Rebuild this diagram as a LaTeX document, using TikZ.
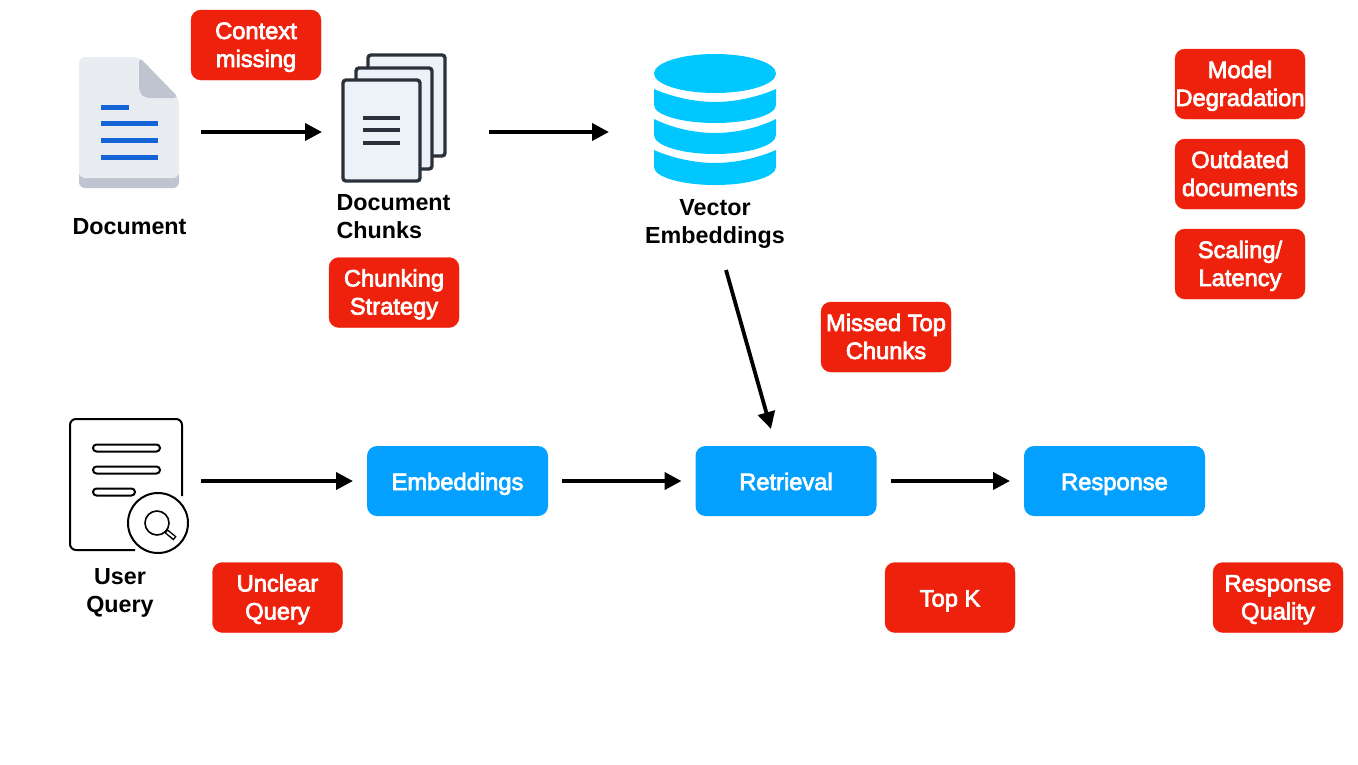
\documentclass[tikz,border=0pt]{standalone}
\usepackage{fontspec}
\setmainfont{Liberation Sans}
\newfontfamily\boxfont[FakeBold=3]{Liberation Sans}
\usetikzlibrary{calc}
\usetikzlibrary{arrows.meta}
\definecolor{issuered}{HTML}{EE220C}
\definecolor{stepblue}{HTML}{04A0FF}
\definecolor{dbcyan}{HTML}{00C7FF}
\definecolor{sheetgrey}{HTML}{E9ECF1}
\definecolor{foldgrey}{HTML}{BEC5D0}
\definecolor{lineblue}{HTML}{1565D8}
\definecolor{stackdark}{HTML}{2A313A}
\definecolor{stackfill}{HTML}{EDF1F8}
\tikzset{
  issue/.style={fill=issuered,draw=issuered,rounded corners=10,minimum width=130,minimum height=70,
    inner sep=0,text=white,align=center,text height=44,text depth=0,font=\boxfont\fontsize{23.7}{28}\selectfont},
  issueone/.style={issue,text height=18},
  stepbox/.style={fill=stepblue,rounded corners=10,minimum width=181,minimum height=70,
    inner sep=0,text=white,align=center,outer sep=14,text height=18,text depth=0,font=\boxfont\fontsize{23.7}{28}\selectfont},
  caption/.style={inner sep=0,text=black,font=\bfseries\fontsize{23.3}{28}\selectfont},
  flow/.style={line width=3.8,-{Triangle[length=17,width=17]}},
  sheet/.style={draw=stackdark,fill=stackfill,line width=3.4,rounded corners=3},
  pill/.style={draw=black,line width=2,rounded corners=3.5}
}
\begin{document}
\begin{tikzpicture}[x=1pt,y=-1pt]
    \useasboundingbox (0,0) rectangle (1358,764);
    \coordinate (docout) at (201,132);
    \coordinate (chunksin) at (322,132);
    \coordinate (chunksout) at (489,132);
    \coordinate (vectorin) at (609,132);
    \coordinate (vectorout) at (726,270);
    \coordinate (retrievalin) at (771,429);
    \coordinate (queryout) at (201,481);
      % document icon
      \fill [foldgrey,rounded corners=6] (79,170) -- (79,188) -- (179,188) -- (179,170) -- cycle;
      \fill [sheetgrey,rounded corners=6] (79,178) -- (79,57) -- (139,57) -- (179,98) -- (179,178) -- cycle;
      \fill [foldgrey,rounded corners=5] (139,57) -- (179,98) -- (145,98) -- (139,92) -- cycle;
      \fill [lineblue] (101,104.5) rectangle (129,109.5);
      \foreach \y in {123,140,157}
        \fill [lineblue] (101,\y-2.5) rectangle (158,\y+2.5);
      % chunk stack
      \draw [sheet] (368,55) rectangle (445,156);
      \draw [sheet] (356,68) rectangle (432,169);
      \draw [sheet] (343,80) rectangle (420,181);
      \foreach \y in {118,130,143}
        \draw [stackdark,line width=3.4] (363,\y) -- (400,\y);
      % database
      \fill [dbcyan] (715,73.5) ellipse [x radius=61,y radius=19.5];
      \fill [dbcyan] (654,89) .. controls (672,97) and (695,102) .. (715,102)
        .. controls (735,102) and (758,97) .. (776,89) -- (776,105)
        arc [start angle=0,end angle=180,x radius=61,y radius=18] -- cycle;
      \fill [dbcyan] (654,119) .. controls (672,128) and (695,133) .. (715,133)
        .. controls (735,133) and (758,128) .. (776,119) -- (776,135)
        arc [start angle=0,end angle=180,x radius=61,y radius=19] -- cycle;
      \fill [dbcyan] (654,150) .. controls (672,158) and (695,163) .. (715,163)
        .. controls (735,163) and (758,158) .. (776,150) -- (776,167)
        arc [start angle=0,end angle=180,x radius=61,y radius=18] -- cycle;
      % query icon
      \draw [line width=2,rounded corners=6] (182,496) -- (182,419) -- (70,419) -- (70,550) -- (135,550);
      \draw [pill] (93,444.5) rectangle (160,451.5);
      \draw [pill] (93,466.5) rectangle (160,473.5);
      \draw [pill] (93,488.5) rectangle (135,495.5);
      \draw [line width=2] (158,523) circle [radius=30];
      \draw [line width=1.6] (157,523) circle [radius=12];
      \draw [line width=5] (166,531) -- (175,538.5);
      \draw [white,line width=2] (167,532) -- (174,537.5);
      % captions
      \node (doclabel) [caption] at (129.5,226.5) {Document};
      \node (chunkslabel) [caption,align=left] at (393.5,217) {Document\\Chunks};
      \node (vectorlabel) [caption,align=center] at (715,224) {Vector\\Embeddings};
      \node (querylabel) [caption,align=center] at (120,593) {User\\Query};
      % pipeline
      \node (embeddings) [stepbox] at (457.5,481) {Embeddings};
      \node (retrieval) [stepbox] at (786,481) {Retrieval};
      \node (response) [stepbox] at (1114.5,481) {Response};
      % issues
      \node (context) [issue] at (256,45) {Context\\missing};
      \node (chunking) [issue] at (394,292.5) {Chunking\\Strategy};
      \node (missed) [issue] at (886,337) {Missed Top\\Chunks};
      \node (model) [issue] at (1240,84) {Model\\Degradation};
      \node (outdated) [issue] at (1240,174) {Outdated\\documents};
      \node (scaling) [issue] at (1240,264) {Scaling/\\Latency};
      \node (unclear) [issue] at (277.5,597.5) {Unclear\\Query};
      \node (topk) [issueone] at (950,597.5) {Top K};
      \node (quality) [issue] at (1278,597.5) {Response\\Quality};
      % arrows
      \draw [flow] (docout) -- (chunksin);
      \draw [flow] (chunksout) -- (vectorin);
      \draw [flow] (vectorout) -- (retrievalin);
      \draw [flow] (queryout) -- (embeddings.west);
      \draw [flow] (embeddings.east) -- (retrieval.west);
      \draw [flow] (retrieval.east) -- (response.west);
  \end{tikzpicture}
\end{document}
